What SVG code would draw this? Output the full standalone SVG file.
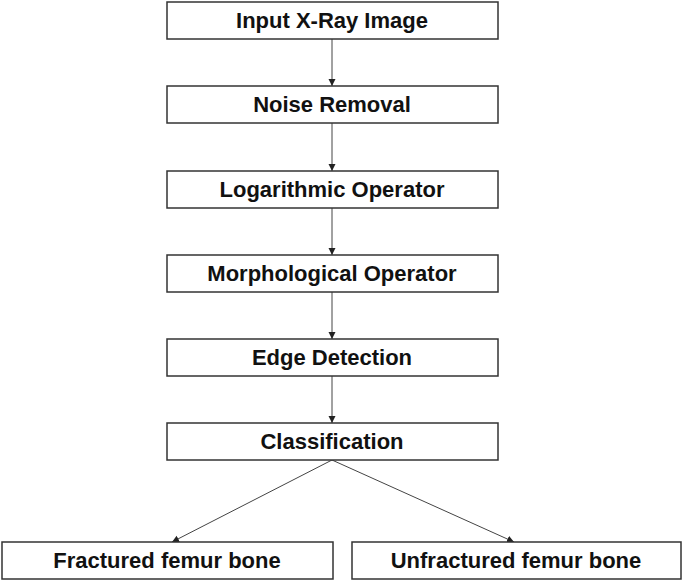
<svg xmlns="http://www.w3.org/2000/svg" width="685" height="581" viewBox="0 0 685 581">
<style>
rect{fill:#fff;stroke:#333;stroke-width:1.5}
text{font-family:"Liberation Sans",Arial,sans-serif;font-weight:bold;font-size:22px;text-anchor:middle;fill:#111}
.c line{stroke:#444;stroke-width:1}
</style>
<defs><marker id="a" markerWidth="8" markerHeight="8" refX="7" refY="4" orient="auto" markerUnits="userSpaceOnUse"><path d="M0,0.5 L7,4 L0,7.5z" fill="#222"/></marker></defs>
<rect width="685" height="581" fill="#fff" style="stroke:none"/>
<g class="c">
<line x1="332" y1="39" x2="332" y2="86" marker-end="url(#a)"/>
<line x1="332" y1="123" x2="332" y2="171" marker-end="url(#a)"/>
<line x1="332" y1="208" x2="332" y2="255" marker-end="url(#a)"/>
<line x1="332" y1="292" x2="332" y2="339" marker-end="url(#a)"/>
<line x1="332" y1="376" x2="332" y2="423" marker-end="url(#a)"/>
<line x1="332" y1="460" x2="172" y2="542" marker-end="url(#a)"/>
<line x1="332" y1="460" x2="514" y2="542" marker-end="url(#a)"/>
</g>
<g id="n1"><rect x="167" y="2" width="331" height="37"/><text x="332" y="28">Input X-Ray Image</text></g>
<g id="n2"><rect x="167" y="86" width="331" height="37"/><text x="332" y="112">Noise Removal</text></g>
<g id="n3"><rect x="167" y="171" width="331" height="37"/><text x="332" y="197">Logarithmic Operator</text></g>
<g id="n4"><rect x="167" y="255" width="331" height="37"/><text x="332" y="281">Morphological Operator</text></g>
<g id="n5"><rect x="167" y="339" width="331" height="37"/><text x="332" y="365">Edge Detection</text></g>
<g id="n6"><rect x="167" y="423" width="331" height="37"/><text x="332" y="449">Classification</text></g>
<g id="n7"><rect x="2" y="542" width="331" height="37"/><text x="167" y="568">Fractured femur bone</text></g>
<g id="n8"><rect x="352" y="542" width="329" height="37"/><text x="516" y="568">Unfractured femur bone</text></g>
</svg>
